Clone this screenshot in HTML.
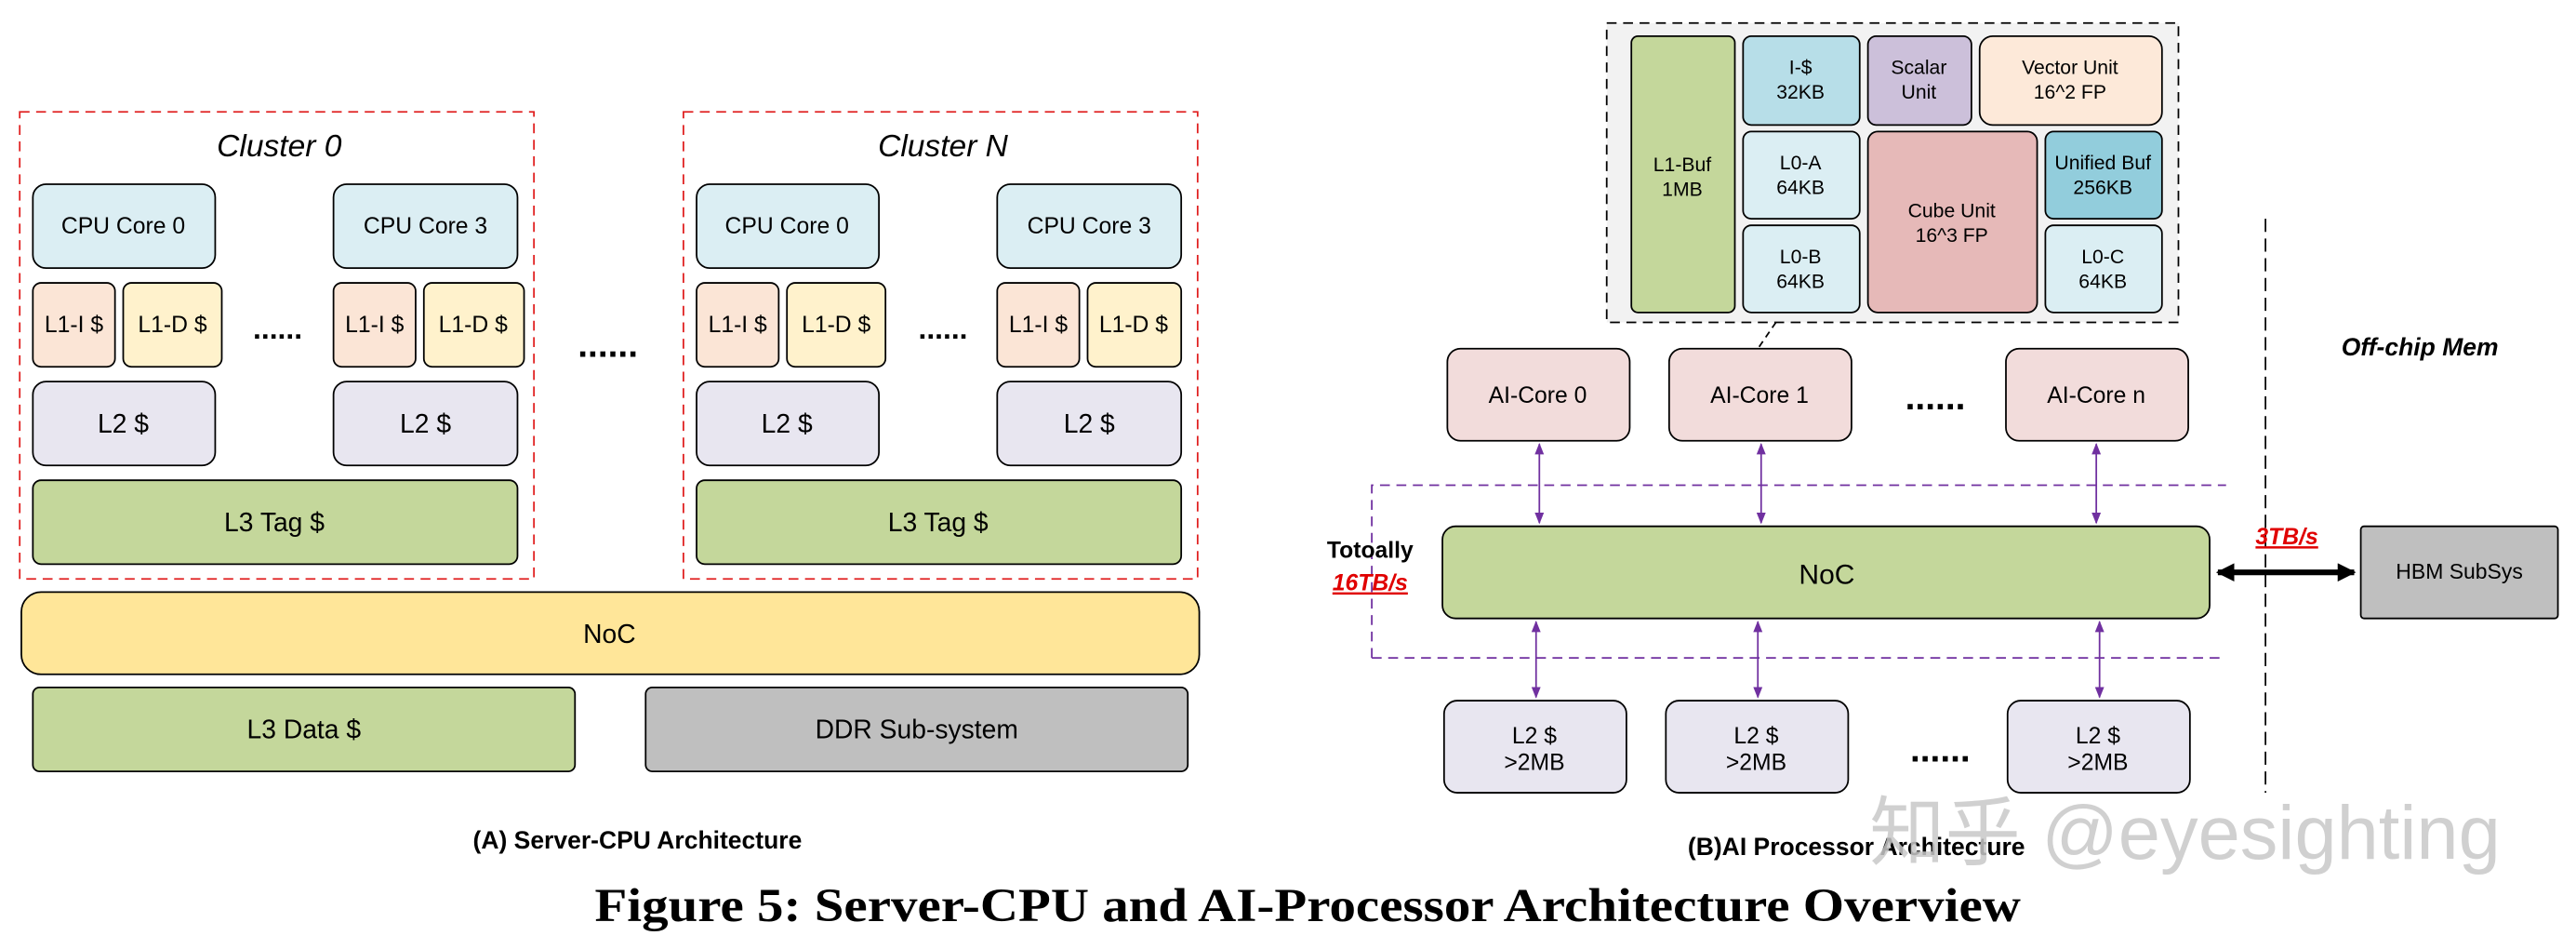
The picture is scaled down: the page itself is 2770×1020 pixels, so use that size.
<!DOCTYPE html>
<html><head><meta charset="utf-8"><style>
html,body{margin:0;padding:0;background:#fff;}
svg{display:block;}
text{font-family:"Liberation Sans",sans-serif;fill:#000;}
</style></head><body>
<svg width="2770" height="1020" viewBox="0 0 1568 577" preserveAspectRatio="none" xmlns="http://www.w3.org/2000/svg">
<defs>
<marker id="pa" viewBox="0 0 10 10" refX="9" refY="5" markerWidth="7" markerHeight="7" orient="auto-start-reverse"><path d="M0,1 L10,5 L0,9 z" fill="#7030a0"/></marker>
<marker id="ba" viewBox="0 0 10 10" refX="9" refY="5" markerWidth="3.2" markerHeight="3.2" orient="auto-start-reverse"><path d="M0,0 L10,5 L0,10 z" fill="#000"/></marker>
</defs>
<g stroke="#000" stroke-width="1">
<rect x="12" y="68" width="313" height="284" fill="none" stroke="#e02020" stroke-dasharray="6,4"/>
<rect x="416" y="68" width="313" height="284" fill="none" stroke="#e02020" stroke-dasharray="6,4"/>
<rect x="20" y="112" width="111" height="51" rx="8" fill="#dbeef3"/>
<rect x="203" y="112" width="112" height="51" rx="8" fill="#dbeef3"/>
<rect x="20" y="172" width="50" height="51" rx="5" fill="#fbe5d6"/>
<rect x="75" y="172" width="60" height="51" rx="5" fill="#fff2cc"/>
<rect x="203" y="172" width="50" height="51" rx="5" fill="#fbe5d6"/>
<rect x="258" y="172" width="61" height="51" rx="5" fill="#fff2cc"/>
<rect x="20" y="232" width="111" height="51" rx="8" fill="#e8e6f0"/>
<rect x="203" y="232" width="112" height="51" rx="8" fill="#e8e6f0"/>
<rect x="20" y="292" width="295" height="51" rx="5" fill="#c4d79b"/>
<rect x="424" y="112" width="111" height="51" rx="8" fill="#dbeef3"/>
<rect x="607" y="112" width="112" height="51" rx="8" fill="#dbeef3"/>
<rect x="424" y="172" width="50" height="51" rx="5" fill="#fbe5d6"/>
<rect x="479" y="172" width="60" height="51" rx="5" fill="#fff2cc"/>
<rect x="607" y="172" width="50" height="51" rx="5" fill="#fbe5d6"/>
<rect x="662" y="172" width="57" height="51" rx="5" fill="#fff2cc"/>
<rect x="424" y="232" width="111" height="51" rx="8" fill="#e8e6f0"/>
<rect x="607" y="232" width="112" height="51" rx="8" fill="#e8e6f0"/>
<rect x="424" y="292" width="295" height="51" rx="5" fill="#c4d79b"/>
<rect x="13" y="360" width="717" height="50" rx="12" fill="#ffe699"/>
<rect x="20" y="418" width="330" height="51" rx="4" fill="#c4d79b"/>
<rect x="393" y="418" width="330" height="51" rx="4" fill="#bfbfbf"/>

<rect x="978" y="14" width="348" height="182" fill="#f2f2f2" stroke-dasharray="6,4"/>
<rect x="993" y="22" width="63" height="168" rx="4" fill="#c4d79b"/>
<rect x="1061" y="22" width="71" height="54" rx="5" fill="#b7dee8"/>
<rect x="1137" y="22" width="63" height="54" rx="5" fill="#ccc0da"/>
<rect x="1205" y="22" width="111" height="54" rx="8" fill="#fde9d9"/>
<rect x="1061" y="80" width="71" height="53" rx="5" fill="#dbeef3"/>
<rect x="1061" y="137" width="71" height="53" rx="5" fill="#dbeef3"/>
<rect x="1137" y="80" width="103" height="110" rx="6" fill="#e6b9b8"/>
<rect x="1245" y="80" width="71" height="53" rx="5" fill="#92cddc"/>
<rect x="1245" y="137" width="71" height="53" rx="5" fill="#dbeef3"/>
<line x1="1081" y1="196" x2="1070" y2="212" stroke-dasharray="4,3"/>
<rect x="881" y="212" width="111" height="56" rx="8" fill="#f2dcdb"/>
<rect x="1016" y="212" width="111" height="56" rx="8" fill="#f2dcdb"/>
<rect x="1221" y="212" width="111" height="56" rx="8" fill="#f2dcdb"/>
<path d="M835,400 L835,295 L1355,295 M835,400 L1355,400" fill="none" stroke="#7030a0" stroke-dasharray="6,4"/>
<rect x="878" y="320" width="467" height="56" rx="8" fill="#c4d79b"/>
<rect x="879" y="426" width="111" height="56" rx="8" fill="#e8e6f0"/>
<rect x="1014" y="426" width="111" height="56" rx="8" fill="#e8e6f0"/>
<rect x="1222" y="426" width="111" height="56" rx="8" fill="#e8e6f0"/>
<line x1="1379" y1="133" x2="1379" y2="482" stroke-dasharray="8,4"/>
<rect x="1437" y="320" width="120" height="56" rx="2" fill="#bfbfbf"/>
<line x1="1350" y1="348" x2="1433" y2="348" stroke-width="3.5" marker-start="url(#ba)" marker-end="url(#ba)"/>
</g>
<g stroke="#7030a0" stroke-width="1" marker-start="url(#pa)" marker-end="url(#pa)">
<line x1="937" y1="270" x2="937" y2="318"/>
<line x1="1072" y1="270" x2="1072" y2="318"/>
<line x1="1276" y1="270" x2="1276" y2="318"/>
<line x1="935" y1="378" x2="935" y2="424"/>
<line x1="1070" y1="378" x2="1070" y2="424"/>
<line x1="1278" y1="378" x2="1278" y2="424"/>
</g>

<g text-anchor="middle" font-size="14">
<text x="170" y="95" font-size="19" font-style="italic">Cluster 0</text>
<text x="574" y="95" font-size="19" font-style="italic">Cluster N</text>
<text x="75" y="142">CPU Core 0</text><text x="259" y="142">CPU Core 3</text>
<text x="479" y="142">CPU Core 0</text><text x="663" y="142">CPU Core 3</text>
<text x="45" y="202">L1-I $</text><text x="105" y="202">L1-D $</text>
<text x="228" y="202">L1-I $</text><text x="288" y="202">L1-D $</text>
<text x="449" y="202">L1-I $</text><text x="509" y="202">L1-D $</text>
<text x="632" y="202">L1-I $</text><text x="690" y="202">L1-D $</text>
<text x="169" y="206" font-weight="bold" font-size="18">......</text>
<text x="574" y="206" font-weight="bold" font-size="18">......</text>
<text x="370" y="217" font-weight="bold" font-size="22">......</text>
<text x="75" y="263" font-size="16">L2 $</text><text x="259" y="263" font-size="16">L2 $</text>
<text x="479" y="263" font-size="16">L2 $</text><text x="663" y="263" font-size="16">L2 $</text>
<text x="167" y="323" font-size="16">L3 Tag $</text><text x="571" y="323" font-size="16">L3 Tag $</text>
<text x="371" y="391" font-size="16">NoC</text>
<text x="185" y="449" font-size="16">L3 Data $</text>
<text x="558" y="449" font-size="16">DDR Sub-system</text>
<text x="388" y="516" font-size="15" font-weight="bold">(A) Server-CPU Architecture</text>

<g font-size="12">
<text x="1024" y="104">L1-Buf</text><text x="1024" y="119">1MB</text>
<text x="1096" y="45">I-$</text><text x="1096" y="60">32KB</text>
<text x="1168" y="45">Scalar</text><text x="1168" y="60">Unit</text>
<text x="1260" y="45">Vector Unit</text><text x="1260" y="60">16^2 FP</text>
<text x="1096" y="103">L0-A</text><text x="1096" y="118">64KB</text>
<text x="1096" y="160">L0-B</text><text x="1096" y="175">64KB</text>
<text x="1188" y="132">Cube Unit</text><text x="1188" y="147">16^3 FP</text>
<text x="1280" y="103">Unified Buf</text><text x="1280" y="118">256KB</text>
<text x="1280" y="160">L0-C</text><text x="1280" y="175">64KB</text>
<text x="1497" y="352" font-size="13">HBM SubSys</text>
</g>
<text x="936" y="245">AI-Core 0</text><text x="1071" y="245">AI-Core 1</text><text x="1276" y="245">AI-Core n</text>
<text x="1178" y="249" font-weight="bold" font-size="22">......</text>
<text x="1112" y="355" font-size="17">NoC</text>
<text x="934" y="452">L2 $</text><text x="934" y="468">&gt;2MB</text>
<text x="1069" y="452">L2 $</text><text x="1069" y="468">&gt;2MB</text>
<text x="1277" y="452">L2 $</text><text x="1277" y="468">&gt;2MB</text>
<text x="1181" y="463" font-weight="bold" font-size="22">......</text>
<text x="1473" y="216" font-size="15" font-weight="bold" font-style="italic">Off-chip Mem</text>
<text x="834" y="339" font-size="14" font-weight="bold">Totoally</text>
<text x="834" y="359" font-size="14" font-weight="bold" font-style="italic" style="fill:#e00000" text-decoration="underline">16TB/s</text>
<text x="1392" y="331" font-size="14" font-weight="bold" font-style="italic" style="fill:#e00000" text-decoration="underline">3TB/s</text>
<text x="1130" y="520" font-size="15" font-weight="bold">(B)AI Processor Architecture</text>
<text x="1330" y="522" font-size="46" style="fill:#c8c8c8;font-family:'Liberation Sans','Noto Sans CJK SC',sans-serif" opacity="0.85">知乎 @eyesighting</text>
<text x="796" y="560" font-size="29" font-weight="bold" style="font-family:'Liberation Serif',serif" textLength="868" lengthAdjust="spacingAndGlyphs">Figure 5: Server-CPU and AI-Processor Architecture Overview</text>
</g>
</svg>
</body></html>
